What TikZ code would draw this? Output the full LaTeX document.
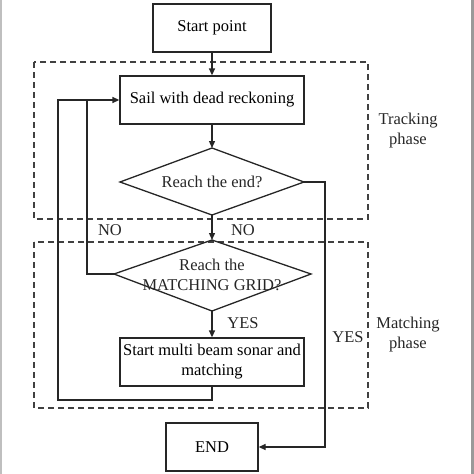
\documentclass[tikz,border=0pt]{standalone}
\usepackage{fontspec}
\setmainfont{Liberation Serif}
\usetikzlibrary{shapes.geometric,arrows.meta}
\begin{document}
\begin{tikzpicture}[x=1pt,y=-1pt,
  line/.style={draw=black!85,line width=1.3pt},
  arr/.style={line,-{Triangle[length=7pt,width=6pt]}},
  stepbox/.style={line,rectangle,minimum height=48pt,inner sep=0pt,font=\fontsize{16.5}{20}\selectfont,align=center},
  phase/.style={draw=black!75,line width=1.3pt,dash pattern=on 6pt off 4pt},
  lbl/.style={font=\fontsize{16.5}{20}\selectfont,text=black!85,inner sep=0pt}]
\useasboundingbox (0,0) rectangle (474,474);
\fill[black!25] (0,0) rectangle (2,474);
\fill[black!40] (471,0) rectangle (474,474);
% phase boxes
\draw[phase] (34,62) rectangle (368,219);
\draw[phase] (34,242) rectangle (368,408);
\node[lbl,align=center] (tp) at (408,131) {Tracking\\phase};
\node[lbl,align=center] (mp) at (408,335) {Matching\\phase};
% nodes
\node[stepbox,minimum width=118pt] (start) at (212,28) {Start point};
\node[stepbox,minimum width=184pt] (sail) at (212,100) {Sail with dead reckoning};
\path[line] (120,182) coordinate (d1l) -- (212,148) coordinate (d1t) -- (304,182) coordinate (d1r) -- (212,215) coordinate (d1b) -- cycle;
\node[lbl] (d1txt) at (212,182) {Reach the end?};
\path[line] (114,274) coordinate (d2l) -- (212,240) coordinate (d2t) -- (311,274) coordinate (d2r) -- (212,311) coordinate (d2b) -- cycle;
\node[lbl,align=center] (d2txt) at (212,275) {Reach the\\MATCHING GRID?};
\node[stepbox,minimum width=184pt] (sonar) at (212,362) {Start multi beam sonar and\\matching};
\node[stepbox,minimum width=92pt] (endn) at (212,447) {END};
% connectors
\draw[arr] (start) -- (sail);
\draw[arr] (sail) -- (d1t);
\draw[arr] (d1b) -- (d2t);
\draw[arr] (d2b) -- (sonar);
\coordinate (c1) at (325,182);
\coordinate (c2) at (325,447);
\draw[arr] (d1r) -- (c1) -- (c2) -- (endn);
\coordinate (c3) at (87,274);
\coordinate (c4) at (87,100);
\draw[line] (d2l) -- (c3) -- (c4);
\coordinate (c5) at (212,400);
\coordinate (c6) at (58,400);
\coordinate (c7) at (58,100);
\draw[arr] (sonar.south) -- (c5) -- (c6) -- (c7) -- (sail.west);
% labels
\node[lbl] (no1) at (110,230) {NO};
\node[lbl] (no2) at (243,230) {NO};
\node[lbl] (yes1) at (243,323) {YES};
\node[lbl] (yes2) at (348,337) {YES};
\end{tikzpicture}
\end{document}
